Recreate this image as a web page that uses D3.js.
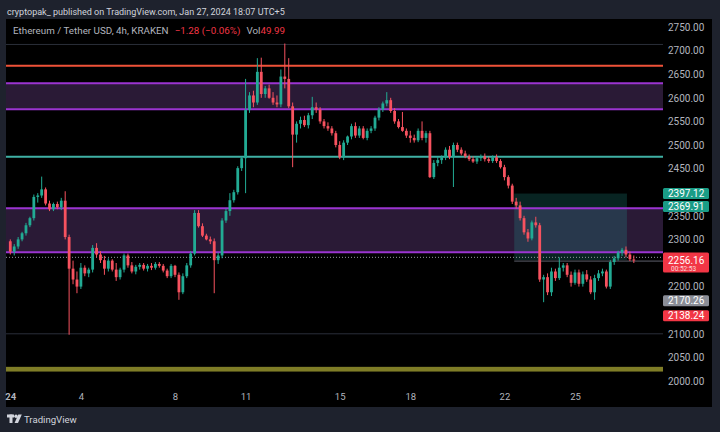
<!DOCTYPE html>
<html>
<head>
<meta charset="utf-8">
<script src="https://cdn.jsdelivr.net/npm/d3@7"></script>
<style>
  html, body { margin: 0; padding: 0; background: #1e222d; }
  svg { display: block; font-family: Roboto, "Noto Sans", sans-serif; }
</style>
</head>
<body>
<svg id="chart" width="720" height="432"></svg>
<script>
// 4h candles, ETH/USDT Kraken, starting Jan 1 2024 00:00
const firstBar = new Date(2024, 0, 1, 0, 0);
// [open, high, low, close]
const ohlc = [
  [2296,2300,2268,2274],[2274,2290,2266,2285],[2285,2305,2280,2300],[2300,2316,2296,2313],
  [2313,2335,2308,2330],[2330,2348,2326,2345],[2345,2395,2340,2390],[2390,2398,2378,2393],
  [2393,2433,2388,2406],[2406,2410,2372,2376],[2376,2382,2360,2364],[2364,2378,2360,2375],
  [2375,2380,2364,2368],[2368,2388,2362,2382],[2382,2402,2300,2305],[2305,2310,2098,2238],
  [2238,2255,2205,2215],[2215,2232,2186,2200],[2200,2250,2195,2240],[2240,2245,2222,2228],
  [2228,2240,2220,2236],[2236,2288,2230,2282],[2282,2292,2262,2268],[2268,2275,2250,2256],
  [2256,2265,2225,2238],[2238,2260,2232,2255],[2255,2258,2232,2236],[2236,2250,2212,2220],
  [2220,2240,2215,2236],[2236,2270,2230,2266],[2266,2270,2240,2245],[2245,2252,2228,2232],
  [2232,2246,2226,2242],[2242,2250,2236,2246],[2246,2250,2234,2238],[2238,2248,2232,2244],
  [2244,2250,2235,2240],[2240,2252,2236,2248],[2248,2252,2240,2244],[2244,2248,2230,2234],
  [2234,2238,2218,2222],[2222,2248,2218,2244],[2244,2246,2220,2225],[2225,2230,2172,2188],
  [2188,2228,2184,2222],[2222,2250,2218,2245],[2245,2275,2240,2270],[2270,2362,2266,2356],
  [2356,2362,2325,2328],[2328,2334,2305,2308],[2308,2312,2298,2300],[2300,2306,2290,2296],
  [2296,2302,2186,2256],[2256,2272,2248,2266],[2266,2345,2260,2340],[2340,2365,2335,2360],
  [2360,2398,2350,2383],[2383,2405,2378,2400],[2400,2455,2395,2451],[2451,2475,2445,2472],
  [2472,2640,2398,2574],[2574,2612,2568,2605],[2605,2615,2580,2590],[2590,2684,2585,2655],
  [2655,2685,2600,2608],[2608,2625,2600,2620],[2620,2628,2598,2600],[2600,2612,2585,2590],
  [2590,2605,2580,2586],[2586,2660,2580,2645],[2645,2715,2620,2640],[2640,2684,2578,2582],
  [2582,2590,2453,2522],[2522,2550,2505,2545],[2545,2560,2535,2553],[2553,2562,2538,2542],
  [2542,2568,2535,2563],[2563,2602,2555,2580],[2580,2590,2568,2575],[2575,2580,2545,2550],
  [2550,2555,2535,2540],[2540,2548,2530,2535],[2535,2540,2520,2525],[2525,2530,2495,2500],
  [2500,2508,2470,2474],[2474,2510,2468,2505],[2505,2520,2500,2518],[2518,2545,2512,2540],
  [2540,2548,2515,2520],[2520,2540,2515,2535],[2535,2540,2512,2515],[2515,2535,2510,2530],
  [2530,2540,2525,2535],[2535,2562,2530,2558],[2558,2580,2552,2575],[2575,2592,2570,2588],
  [2588,2612,2582,2595],[2595,2600,2568,2572],[2572,2578,2545,2550],[2550,2555,2535,2538],
  [2538,2570,2528,2530],[2530,2535,2515,2520],[2520,2530,2505,2515],[2515,2522,2505,2510],
  [2510,2535,2506,2530],[2530,2550,2510,2515],[2515,2530,2505,2525],[2525,2530,2430,2432],
  [2432,2468,2428,2462],[2462,2475,2455,2468],[2468,2478,2460,2474],[2474,2495,2468,2490],
  [2490,2498,2470,2475],[2475,2505,2411,2500],[2500,2505,2485,2490],[2490,2495,2478,2482],
  [2482,2488,2472,2476],[2476,2480,2466,2470],[2470,2476,2462,2465],[2465,2475,2460,2472],
  [2472,2480,2466,2476],[2476,2482,2465,2470],[2470,2475,2462,2466],[2466,2478,2462,2474],
  [2474,2480,2462,2466],[2466,2470,2450,2453],[2453,2458,2425,2432],[2432,2436,2408,2414],
  [2414,2418,2375,2380],[2380,2388,2365,2372],[2372,2380,2340,2345],[2345,2350,2310,2315],
  [2315,2322,2295,2302],[2302,2340,2298,2336],[2336,2348,2325,2330],[2330,2335,2210,2215],
  [2215,2225,2167,2220],[2220,2228,2182,2188],[2188,2240,2180,2232],[2232,2238,2212,2218],
  [2218,2262,2214,2240],[2240,2250,2232,2245],[2245,2250,2220,2225],[2225,2232,2200,2208],
  [2208,2236,2204,2230],[2230,2236,2200,2206],[2206,2232,2200,2226],[2226,2235,2210,2215],
  [2215,2222,2184,2188],[2188,2225,2172,2218],[2218,2235,2212,2228],[2228,2238,2222,2232],
  [2232,2236,2196,2200],[2200,2256,2195,2252],[2252,2265,2246,2260],[2260,2276,2255,2272],
  [2272,2282,2265,2278],[2278,2285,2262,2268],[2268,2274,2254,2258],[2257.44,2266,2250,2256.16]
];

// scale labels (the ones under the price tags are not shown)
const priceTicks = [2000, 2050, 2100, 2200, 2300, 2350, 2450, 2500, 2550, 2600, 2650, 2700, 2750];
const dayTicks = [new Date(2024,0,1), new Date(2024,0,4), new Date(2024,0,8), new Date(2024,0,11),
  new Date(2024,0,15), new Date(2024,0,18), new Date(2024,0,22), new Date(2024,0,25)];

// user drawings
const redLevel = 2668;
const tealLevel = 2475;
const greyLevels = [2713, 2100];
const purpleZones = [[2576, 2631], [2273, 2366]];
const oliveZone = [2020, 2030];
const prevCloseLevel = 2262;
const positionBox = { from: 128.7, to: 157.3, top: 2397.12, entry: 2256.16 };

// price tags on the right scale
const priceTags = [
  { v: 2397.12, bg: "#1a9c86" },
  { v: 2369.91, bg: "#1a9c86" },
  { v: 2256.16, bg: "#f23645", sub: "00:52:53" },
  { v: 2170.26, bg: "#8a8d96" },
  { v: 2138.24, bg: "#f23645" }
];

const green = "#22ab94", red = "#f7525f";
const svg = d3.select("#chart");

const panel = { left: 6, right: 712, top: 19, bottom: 407 };
const plotRight = 663;

const x = d3.scaleTime()
  .domain([new Date(2024,0,1), new Date(2024,0,25)])
  .range([10.3, 575]);
const y = d3.scaleLinear().domain([2000, 2750]).range([381, 27]);
const barTime = i => d3.timeHour.offset(firstBar, 4 * i);

// header
svg.append("text").attr("x", 7).attr("y", 15)
  .attr("fill", "#d1d4dc").attr("font-size", 9)
  .text("cryptopak_ published on TradingView.com, Jan 27, 2024 18:07 UTC+5");

svg.append("rect")
  .attr("x", panel.left).attr("y", panel.top)
  .attr("width", panel.right - panel.left).attr("height", panel.bottom - panel.top)
  .attr("fill", "#000");

svg.append("defs").append("clipPath").attr("id", "plot")
  .append("rect").attr("x", panel.left).attr("y", panel.top)
  .attr("width", plotRight - panel.left).attr("height", panel.bottom - panel.top);

const plot = svg.append("g").attr("clip-path", "url(#plot)");

// zones
purpleZones.forEach(z => {
  plot.append("rect")
    .attr("x", panel.left).attr("width", plotRight - panel.left)
    .attr("y", y(z[1])).attr("height", y(z[0]) - y(z[1]))
    .attr("fill", "#2a1a36");
});

plot.append("rect")
  .attr("x", panel.left).attr("width", plotRight - panel.left)
  .attr("y", y(oliveZone[1])).attr("height", y(oliveZone[0]) - y(oliveZone[1]))
  .attr("fill", "#7f7d27");

// long position box
const bx0 = x(barTime(positionBox.from)), bx1 = x(barTime(positionBox.to));
plot.append("rect")
  .attr("x", bx0).attr("width", bx1 - bx0)
  .attr("y", y(positionBox.top)).attr("height", y(positionBox.entry) - y(positionBox.top))
  .attr("fill", "rgba(38,166,154,0.22)");

purpleZones.forEach(z => {
  z.forEach(v => {
    plot.append("line")
      .attr("x1", panel.left).attr("x2", plotRight)
      .attr("y1", y(v)).attr("y2", y(v))
      .attr("stroke", "#9b34d1").attr("stroke-width", 2);
  });
});

greyLevels.forEach(v => {
  plot.append("line")
    .attr("x1", panel.left).attr("x2", plotRight)
    .attr("y1", y(v)).attr("y2", y(v))
    .attr("stroke", "#2a2e39").attr("stroke-width", 1);
});

plot.append("line")
  .attr("x1", panel.left).attr("x2", plotRight)
  .attr("y1", y(redLevel)).attr("y2", y(redLevel))
  .attr("stroke", "#ef5238").attr("stroke-width", 2);

plot.append("line")
  .attr("x1", panel.left).attr("x2", plotRight)
  .attr("y1", y(tealLevel)).attr("y2", y(tealLevel))
  .attr("stroke", "#3fb0a4").attr("stroke-width", 2);

plot.append("line")
  .attr("x1", panel.left).attr("x2", plotRight)
  .attr("y1", y(prevCloseLevel)).attr("y2", y(prevCloseLevel))
  .attr("stroke", "#9598a1").attr("stroke-width", 1)
  .attr("stroke-dasharray", "1,2");

plot.append("line")
  .attr("x1", bx0).attr("x2", plotRight)
  .attr("y1", y(positionBox.entry) + 1).attr("y2", y(positionBox.entry) + 1)
  .attr("stroke", "#5d606b").attr("stroke-width", 1);

// candles
const candles = plot.selectAll("g.candle").data(ohlc).join("g")
  .attr("class", "candle")
  .attr("transform", (d, i) => "translate(" + x(barTime(i)) + ",0)");

candles.append("line")
  .attr("y1", d => y(d[1])).attr("y2", d => y(d[2]))
  .attr("stroke", d => d[3] >= d[0] ? green : red)
  .attr("stroke-width", 1);

candles.append("rect")
  .attr("x", -1.4).attr("width", 2.8)
  .attr("y", d => y(Math.max(d[0], d[3])))
  .attr("height", d => Math.max(1, Math.abs(y(d[0]) - y(d[3]))))
  .attr("fill", d => d[3] >= d[0] ? green : red);

// price scale
const yAxis = svg.append("g")
  .attr("transform", "translate(" + (plotRight + 5) + ",0)")
  .call(d3.axisRight(y).tickValues(priceTicks).tickSize(0).tickPadding(0).tickFormat(d3.format(".2f")));
yAxis.select(".domain").remove();
yAxis.selectAll("text").attr("fill", "#b2b5be").attr("font-size", 10)
  .attr("font-family", "Roboto, sans-serif");

// time scale
const xAxis = svg.append("g")
  .attr("transform", "translate(0,393)")
  .call(d3.axisBottom(x).tickValues(dayTicks).tickSize(0).tickPadding(0)
    .tickFormat(d => d.getDate() === 1 ? "24" : d3.timeFormat("%-d")(d)));
xAxis.select(".domain").remove();
xAxis.selectAll("text").attr("fill", "#b2b5be").attr("font-size", 9.5)
  .attr("font-family", "Roboto, sans-serif")
  .attr("font-weight", d => d.getDate() === 1 ? "bold" : null);

// price tags
priceTags.forEach(t => {
  const cy = y(t.v);
  const h = t.sub ? 20 : 11;
  const g = svg.append("g");
  g.append("rect")
    .attr("x", plotRight).attr("y", cy - (t.sub ? 7.5 : 5.5))
    .attr("width", 46).attr("height", h).attr("rx", 1.5)
    .attr("fill", t.bg);
  g.append("text")
    .attr("x", plotRight + 5).attr("y", cy + 3.5)
    .attr("fill", "#fff").attr("font-size", 10)
    .text(d3.format(".2f")(t.v));
  if (t.sub) {
    g.append("text")
      .attr("x", plotRight + 8).attr("y", cy + 10.5)
      .attr("fill", "#fff").attr("opacity", 0.8).attr("font-size", 6.5)
      .text(t.sub);
  }
});

// legend
const legend = svg.append("text").attr("x", 13).attr("y", 33.5).attr("font-size", 9.8);
legend.append("tspan").attr("fill", "#b2b5be").text("Ethereum / Tether USD, 4h, KRAKEN");
legend.append("tspan").attr("fill", "#f23645").attr("dx", 6).text("\u22121.28 (\u22120.06%)");
legend.append("tspan").attr("fill", "#b2b5be").attr("dx", 6).text("Vol");
legend.append("tspan").attr("fill", "#f23645").text("49.99");

// footer logo
const logo = svg.append("g").attr("transform", "translate(7,414.5)").attr("fill", "#d1d4dc");
logo.append("rect").attr("x", 0).attr("y", 0).attr("width", 7).attr("height", 3);
logo.append("rect").attr("x", 2.5).attr("y", 0).attr("width", 3).attr("height", 8.5);
logo.append("circle").attr("cx", 9).attr("cy", 1.8).attr("r", 1.7);
logo.append("path").attr("d", "M11.3,0 L14.8,0 L11,8.5 L7.6,8.5 Z");
svg.append("text").attr("x", 24).attr("y", 422.5)
  .attr("fill", "#d1d4dc").attr("font-size", 9.6).text("TradingView");
</script>
</body>
</html>
